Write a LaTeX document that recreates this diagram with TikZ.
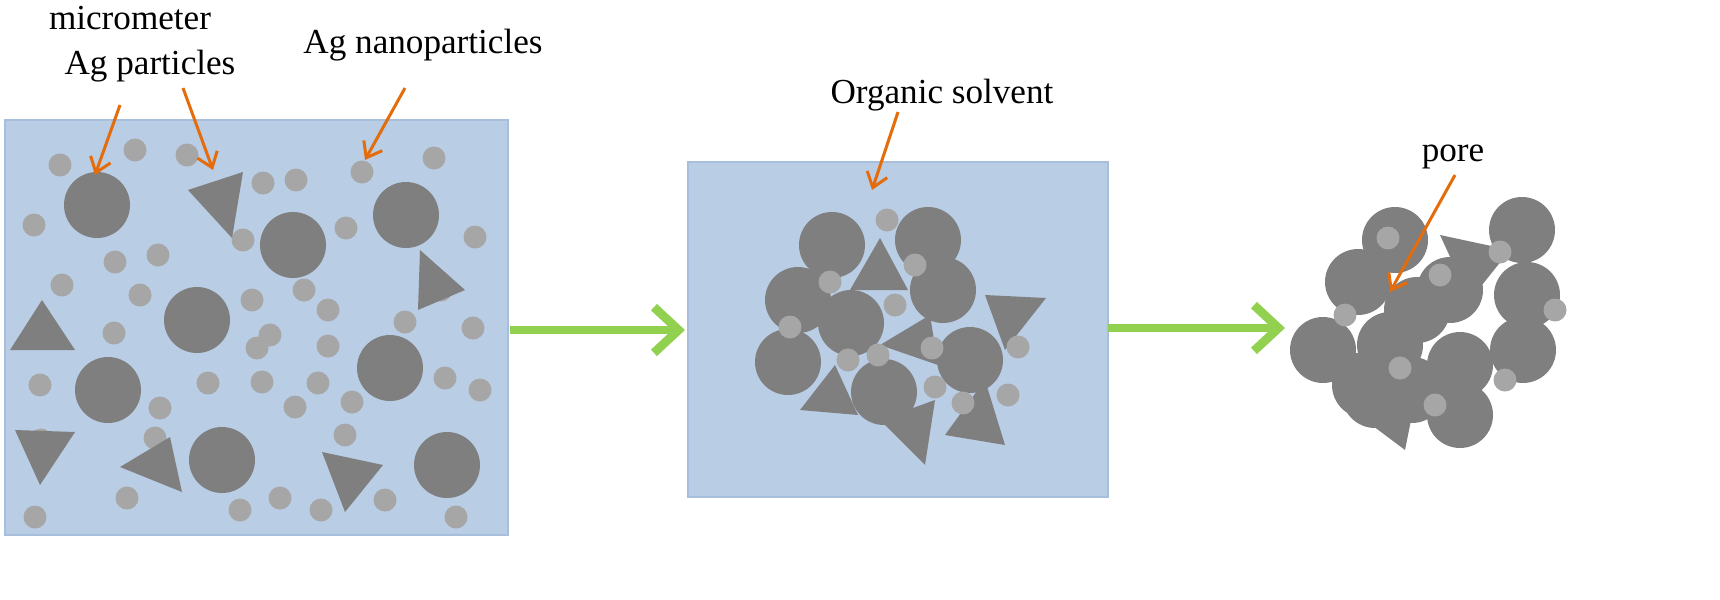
\documentclass[tikz,border=0pt]{standalone}
\usepackage{fontspec}
\setmainfont{Liberation Serif}
\usetikzlibrary{arrows.meta}
\definecolor{boxc}{HTML}{B9CDE5}
\definecolor{boxb}{HTML}{A7BFDC}
\definecolor{big}{HTML}{7F7F7F}
\definecolor{small}{HTML}{A6A6A6}
\definecolor{org}{HTML}{E46C0A}
\definecolor{grn}{HTML}{92D050}
\tikzset{
 panel/.style={fill=boxc,draw=boxb,line width=1pt},
 lbl/.style={font=\fontsize{20}{22}\selectfont,inner sep=0pt},
 pointer/.style={draw=org,line width=1.7pt,-{Straight Barb[length=8pt,width=12pt]}},
 flow/.style={draw=grn,line width=5pt,-{Straight Barb[length=14pt,width=26pt]}},
}
\newcommand{\BC}[2]{\fill[big] (#1,#2) circle (33);}
\newcommand{\SC}[2]{\fill[small] (#1,#2) circle (11.5);}
\begin{document}
\begin{tikzpicture}[x=0.02cm,y=-0.02cm]
\useasboundingbox (0,0) rectangle (1720,599);
\draw[panel] (5,120) rectangle (508,535);
\draw[panel] (688,162) rectangle (1108,497);
% left panel
\foreach \x/\y in {97/205,293/245,406/215,197/320,108/390,390/368,222/460,447/465} {\BC{\x}{\y}}
\foreach \x/\y in {60/165,135/150,187/155,263/183,296/180,362/172,434/158,34/225,158/255,115/262,243/240,346/228,475/237,62/285,140/295,252/300,304/290,441/290,114/333,270/335,328/310,405/322,473/328,40/385,208/383,262/382,318/383,257/348,328/346,445/378,480/390,352/402,160/408,295/407,345/435,155/438,41/440,280/498,35/517,127/498,240/510,321/510,385/500,456/517}{\SC{\x}{\y}}
\foreach \a/\b/\c/\d/\e/\f in {188/190/243/172/232/238,420/250/465/290/418/310,10/350/75/350/42/300,15/430/75/432/40/485,120/467/182/492/170/437,322/452/383/465/345/512}{\fill[big] (\a,\b)--(\c,\d)--(\e,\f)--cycle;}
% middle
\foreach \a/\b/\c/\d/\e/\f in {850/290/908/290/880/238,985/295/1046/298/1005/350,800/410/858/415/835/365,880/420/935/400/925/465,945/435/1005/445/985/380,880/345/930/315/938/365}{\fill[big] (\a,\b)--(\c,\d)--(\e,\f)--cycle;}
\foreach \x/\y in {832/245,928/240,943/290,798/300,851/323,788/362,970/360,884/392}{\BC{\x}{\y}}
\foreach \x/\y in {887/220,915/265,830/282,895/305,790/327,932/348,878/355,848/360,1018/347,935/387,963/403,1008/395}{\SC{\x}{\y}}
% right
\foreach \a/\b/\c/\d/\e/\f in {1345/405/1405/450/1415/400,1440/235/1510/250/1470/300}{\fill[big] (\a,\b)--(\c,\d)--(\e,\f)--cycle;}
\foreach \x/\y in {1358/282,1395/240,1522/230,1450/290,1527/295,1417/310,1323/350,1390/345,1460/365,1523/350,1365/385,1460/415,1412/390,1375/395}{\BC{\x}{\y}}
\foreach \x/\y in {1500/252,1440/275,1555/310,1388/238,1400/368,1505/380,1435/405,1345/315}{\SC{\x}{\y}}
% labels
\node[lbl] (t1) at (130,18) {micrometer};
\node[lbl] (t2) at (150,66) {Ag particles};
\node[lbl] (t3) at (423,45) {Ag nanoparticles};
\node[lbl] (t4) at (942,95) {Organic solvent};
\node[lbl] (t5) at (1453,157) {pore};
\coordinate (p1) at (95,175); \coordinate (q1) at (120,105);
\coordinate (p2) at (213,170); \coordinate (q2) at (183,88);
\coordinate (p3) at (365,160); \coordinate (q3) at (405,88);
\coordinate (p4) at (872,190); \coordinate (q4) at (898,112);
\coordinate (p5) at (1390,292); \coordinate (q5) at (1455,175);
\foreach \i in {1,...,5}{\draw[pointer] (q\i)--(p\i);}
\coordinate (g1) at (510,330); \coordinate (g2) at (685,330);
\coordinate (g3) at (1108,328); \coordinate (g4) at (1285,328);
\draw[flow] (g1)--(g2);
\draw[flow] (g3)--(g4);
\end{tikzpicture}
\end{document}
